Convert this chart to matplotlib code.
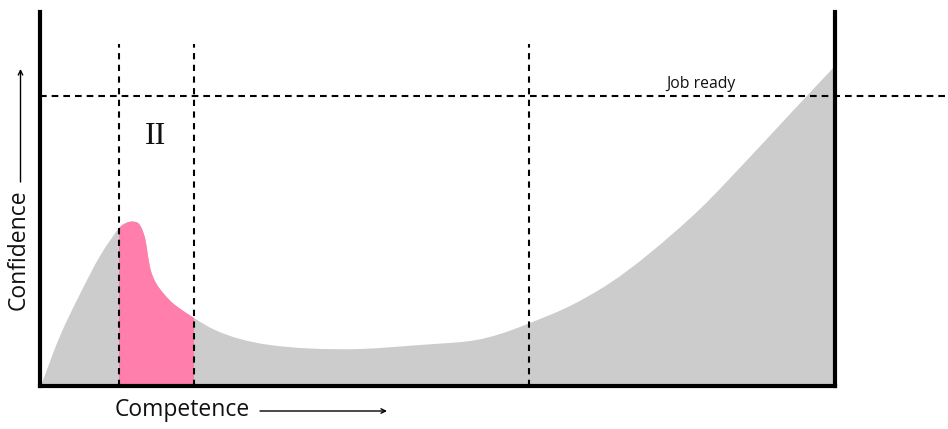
import matplotlib
matplotlib.use("Agg")
import matplotlib.pyplot as plt
from matplotlib.path import Path
from matplotlib.patches import PathPatch
import numpy as np

# Confidence curve (competence on x, confidence height on y)
rise_x = [42, 60, 80, 100, 119]
rise_y = [3, 50, 92, 130, 158]

peak_x = [119, 126, 132, 138, 142, 145.5, 148, 151, 156, 164, 175, 194]
peak_y = [158, 163, 164.5, 163, 157, 146, 130, 115, 103, 92, 81, 68]

valley_x = [194, 215, 240, 270, 310, 360, 420, 470, 500, 530, 570, 610, 650, 700, 750,
            790, 835]
valley_y = [68, 56, 47, 41, 37.5, 37, 41, 45, 52, 63, 80, 103, 133, 177, 229, 272, 320]

stage_lines = [119, 194, 529]
job_ready = 290
stage_label = "II"

GRAY = "#cccccc"
PINK = "#ff7eab"
FONT = "Open Sans"


def smooth_area(xs, ys, base=0):
    """Closed path: smooth cubic curve through the points, down to the baseline."""
    P = np.column_stack([xs, ys]).astype(float)
    n = len(P)
    verts = [P[0]]
    codes = [Path.MOVETO]
    for i in range(n - 1):
        p0 = P[i - 1] if i > 0 else P[i]
        p1, p2 = P[i], P[i + 1]
        p3 = P[i + 2] if i + 2 < n else P[i + 1]
        c1 = p1 + (p2 - p0) / 6.0
        c2 = p2 - (p3 - p1) / 6.0
        verts += [c1, c2, p2]
        codes += [Path.CURVE4] * 3
    verts += [(P[-1, 0], base), (P[0, 0], base), P[0]]
    codes += [Path.LINETO, Path.LINETO, Path.CLOSEPOLY]
    return Path(verts, codes)


W, H = 948, 429
fig = plt.figure(figsize=(W / 100, H / 100), dpi=100)
ax = fig.add_axes([40 / W, (H - 386) / H, (835 - 40) / W, (386 - 12) / H])
ax.set_xlim(40, 835)
ax.set_ylim(0, 374)

all_x = rise_x + peak_x[1:] + valley_x[1:]
all_y = rise_y + peak_y[1:] + valley_y[1:]
ax.add_patch(PathPatch(smooth_area(all_x, all_y), facecolor=GRAY, lw=0, zorder=1))
ax.add_patch(PathPatch(smooth_area(peak_x, peak_y), facecolor=PINK, lw=0, zorder=2))

for x in stage_lines:
    ax.plot([x, x], [0, 342], color="black", lw=1.5, dashes=(3, 2.6), zorder=3)
ax.plot([40, 948], [job_ready, job_ready], color="black", lw=1.5, dashes=(3.2, 2.4),
        zorder=3, clip_on=False)

ax.text(701, 386 - 84, "Job ready", ha="center", va="center", fontsize=11.3,
        family=FONT, color="#111111")
ax.text(156, 386 - 136, stage_label, ha="center", va="center", fontsize=23,
        family="Liberation Serif", color="#111111")

ax.set_xticks([])
ax.set_yticks([])
ax.spines["top"].set_visible(False)
for s in ["left", "right", "bottom"]:
    ax.spines[s].set_linewidth(3)
    ax.spines[s].set_color("black")
    ax.spines[s].set_zorder(5)

# axis titles with arrows
fig.text(182.5 / W, 1 - 410 / H, "Competence", ha="center", va="center", fontsize=16.5,
         family=FONT, color="#111111")
ax.annotate("", xy=(387, H - 411), xytext=(260, H - 411), xycoords="figure pixels",
            textcoords="figure pixels",
            arrowprops=dict(arrowstyle="->", lw=1, color="black", shrinkA=0, shrinkB=0,
                            mutation_scale=8))
fig.text(18.5 / W, 1 - 250 / H, "Confidence", ha="center", va="center", fontsize=16.5,
         family=FONT, rotation=90, color="#111111")
ax.annotate("", xy=(20.5, H - 69), xytext=(20.5, H - 182), xycoords="figure pixels",
            textcoords="figure pixels",
            arrowprops=dict(arrowstyle="->", lw=1, color="black", shrinkA=0, shrinkB=0,
                            mutation_scale=8))

fig.savefig("out.png", dpi=100)
